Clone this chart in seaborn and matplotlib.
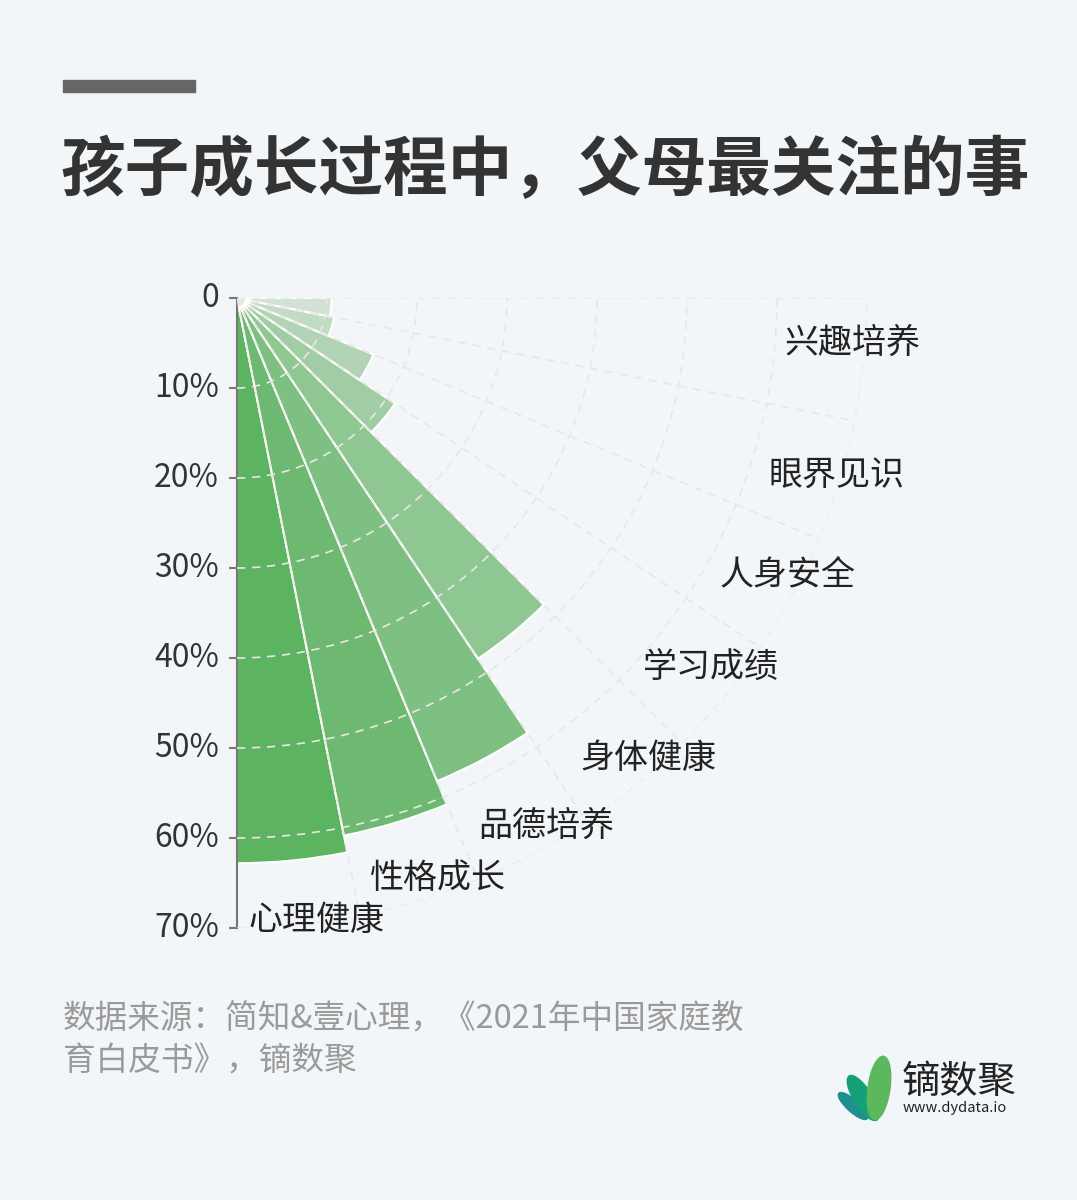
import numpy as np
import matplotlib
matplotlib.use('Agg')
import matplotlib.pyplot as plt
import matplotlib.transforms as mtransforms
from matplotlib.patches import Ellipse, Rectangle
import seaborn as sns

# 数据
categories = ['心理健康', '性格成长', '品德培养', '身体健康', '学习成绩', '人身安全', '眼界见识', '兴趣培养']
values = [62.8, 60.9, 58.1, 48.2, 21.1, 16.4, 11.0, 10.5]
r_ticks = [0, 10, 20, 30, 40, 50, 60, 70]
r_tick_labels = ['0', '10%', '20%', '30%', '40%', '50%', '60%', '70%']
title = '孩子成长过程中，父母最关注的事'
source_lines = ['数据来源：简知&壹心理，《2021年中国家庭教', '育白皮书》，镝数聚']

# 类别标签的位置（角度, 半径）
label_theta_deg = [7.3, 19.0, 30.3, 41.75, 52.0, 63.2, 73.5, 85.8]
label_r = [69.7, 68.2, 68.0, 68.6, 66.9, 68.5, 69.5, 68.6]

bg = '#f3f6f9'
grid_color = '#ebe6e6'
sns.set_theme(style='white')
plt.rcParams['font.family'] = ['Noto Sans CJK SC', 'DejaVu Sans']

fig = plt.figure(figsize=(10.77, 12), dpi=100, facecolor=bg)

# 装饰层（像素坐标）
deco = fig.add_axes([0, 0, 1, 1], zorder=0)
deco.set_xlim(0, 1077)
deco.set_ylim(1200, 0)
deco.axis('off')
deco.add_patch(Rectangle((63, 80), 132, 12, color='#666666'))
deco.text(60, 171, title, fontsize=46.5, fontweight='bold', color='#333333', va='center', ha='left')
for i, line in enumerate(source_lines):
    deco.text(63, 1020 + i * 42, line, fontsize=23.5, color='#9a9a9a', va='center', ha='left')

# logo
deco.add_patch(Ellipse((853, 1106), 12, 38, angle=-48, color='#1f8f8f'))
deco.add_patch(Ellipse((863, 1098), 18, 52, angle=-32, color='#16a077'))
deco.add_patch(Ellipse((879, 1088), 22, 64, angle=8, color='#5cb85c'))
deco.text(902, 1082, '镝数聚', fontsize=27.5, color='#222222', va='center', ha='left')
deco.text(903, 1108, 'www.dydata.io', fontsize=10.5, color='#222222', va='center', ha='left')

# 极坐标柱状图
ax = fig.add_axes([237 / 1077, (1200 - 928) / 1200, 630 / 1077, 630 / 1200],
                  projection='polar', zorder=1)
ax.set_facecolor('none')
ax.set_theta_zero_location('S')
ax.set_theta_direction(1)
ax.set_thetamin(0)
ax.set_thetamax(90)

n = len(categories)
step = 90 / n
theta = np.deg2rad(np.arange(n) * step + step / 2)
colors = sns.blend_palette(['#5cb360', '#d2e1d5'], n)
ax.bar(theta, values, width=np.deg2rad(step), color=colors, edgecolor='white', linewidth=1.5)

ax.set_ylim(0, 70)
ax.set_yticks(r_ticks)
ax.set_yticklabels([])
ax.set_xticks(np.deg2rad(np.arange(1, n + 1) * step))
ax.set_xticklabels([])
ax.set_axisbelow(False)
ax.grid(True, linestyle=(0, (5, 4)), color=grid_color, linewidth=1.2)
ax.tick_params(length=0)

# 极坐标的 start/end 边框在绘制时会被重新打开，所以只改颜色
ax.spines['polar'].set_visible(False)
ax.spines['inner'].set_visible(False)
ax.spines['end'].set_color('none')
ax.spines['end'].set_linewidth(0)
ax.spines['start'].set_color('#777777')
ax.spines['start'].set_linewidth(1.5)

# 径向刻度
offset = mtransforms.offset_copy(ax.transData, fig=fig, x=-18, y=0, units='dots')
for r, lab in zip(r_ticks, r_tick_labels):
    ax.text(0, r, lab, transform=offset, ha='right', va='center', fontsize=23, color='#333333')
ax.plot(np.zeros(len(r_ticks)), r_ticks, linestyle='none', marker=0, markersize=6,
        markeredgewidth=1.5, color='#777777', clip_on=False)

# 类别标签
for t, r, name in zip(label_theta_deg, label_r, categories):
    ax.text(np.deg2rad(t), r, name, ha='center', va='center', fontsize=24.5, color='#222222')

fig.savefig('out.png', dpi=100, facecolor=bg)
